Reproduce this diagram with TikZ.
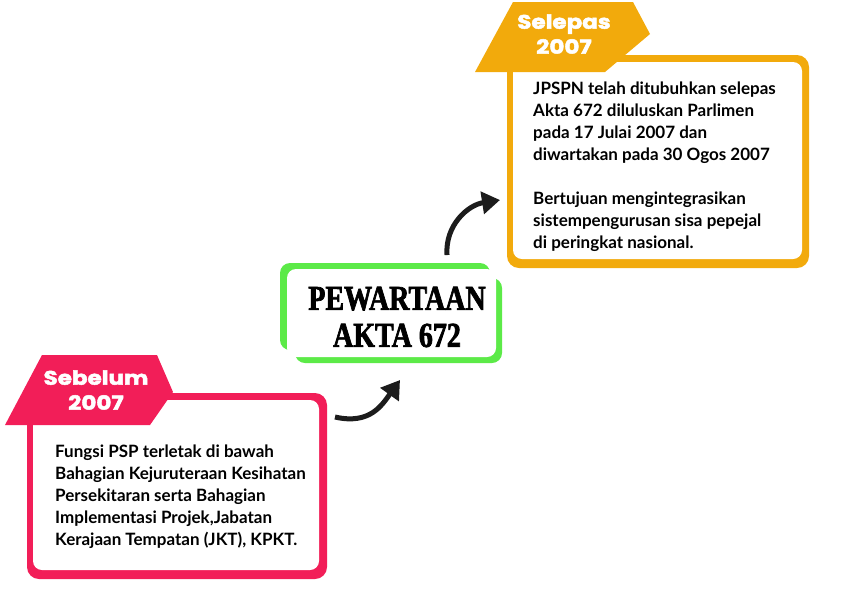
\documentclass[tikz,border=0pt]{standalone}
\usepackage{fontspec}
\setmainfont{Lato}
\newfontfamily\tagfont{Poppins}[FakeStretch=1.18, FakeBold=2.5]
\newfontfamily\stencilfont{Liberation Serif}[FakeStretch=0.8, FakeBold=2]
\usetikzlibrary{positioning, arrows.meta}
\definecolor{pinkred}{RGB}{242,30,88}
\definecolor{amber}{RGB}{242,170,12}
\definecolor{limegreen}{RGB}{92,234,72}
\definecolor{arrowblack}{RGB}{28,28,28}

\begin{document}
\begin{tikzpicture}[x=1pt, y=-1pt,
  bodytext/.style={anchor=north west, align=left, inner sep=0pt, font=\fontsize{17}{22}\selectfont\bfseries},
  tagtext/.style={align=center, inner sep=0pt, text=white, font=\tagfont\fontsize{19.5}{25}\selectfont\bfseries},
  bendarrow/.style={line width=5pt, arrowblack, -{Triangle[width=22pt,length=18pt]}}]
 \useasboundingbox (0,0) rectangle (842,598);

 % sebelum 2007
 \fill[pinkred, rounded corners=12pt] (27,393) rectangle (327,579);
 \fill[white, rounded corners=9pt] (33,400) rectangle (319,570);
 \fill[pinkred] (5,425) -- (42,355) -- (157,355) -- (173,392) -- (150,425) -- cycle;
 \node[tagtext] (beforetag) at (96,390) {Sebelum\\2007};
 \node[bodytext] (before) at (55,445) {Fungsi PSP terletak di bawah\\Bahagian Kejuruteraan Kesihatan\\Persekitaran serta Bahagian\\Implementasi Projek,Jabatan\\Kerajaan Tempatan (JKT), KPKT.};

 % pewartaan
 \fill[limegreen, rounded corners=10pt] (280,263) rectangle (490,350);
 \fill[limegreen, rounded corners=10pt] (295,278) rectangle (502,363);
 \fill[white, rounded corners=9pt] (287,269) rectangle (496,357);
 \node[align=center, inner sep=0pt, font=\stencilfont\fontsize{35}{37}\selectfont\bfseries] (gazette) at (397,317) {PEWARTAAN\\AKTA 672};

 % selepas 2007
 \fill[amber, rounded corners=12pt] (507,55) rectangle (809,268);
 \fill[white, rounded corners=9pt] (513,62) rectangle (802,259);
 \fill[amber] (475,72) -- (513,2) -- (633,2) -- (650,34) -- (605,72) -- cycle;
 \node[tagtext] (aftertag) at (564,34) {Selepas\\2007};
 \node[bodytext] (after) at (533,82) {JPSPN telah ditubuhkan selepas\\Akta 672 diluluskan Parlimen\\pada 17 Julai 2007 dan\\diwartakan pada 30 Ogos 2007\\[22pt]Bertujuan mengintegrasikan\\sistempengurusan sisa pepejal\\di peringkat nasional.};

 % anak panah
 \coordinate (up1start) at (335,417);
 \coordinate (up1end) at (400,380);
 \coordinate (up2start) at (447,255);
 \coordinate (up2end) at (500,200);
 \draw[bendarrow] (up1start) .. controls (370,425) and (382,405) .. (up1end);
 \draw[bendarrow] (up2start) .. controls (445,225) and (468,205) .. (up2end);
\end{tikzpicture}
\end{document}
